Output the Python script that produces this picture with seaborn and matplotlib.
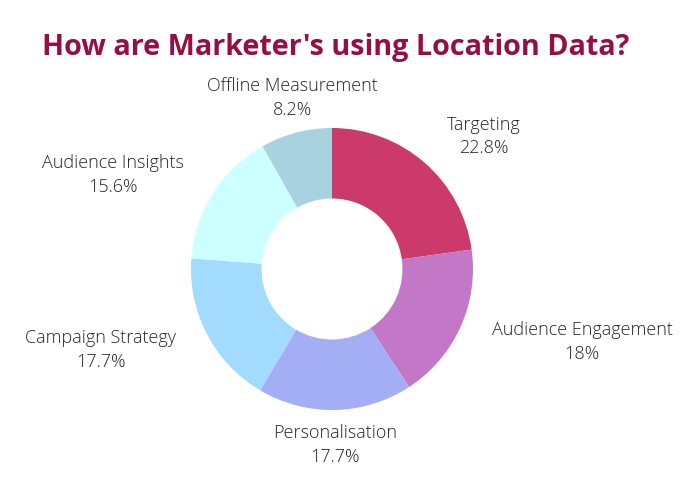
import matplotlib
matplotlib.use("Agg")
import matplotlib.pyplot as plt
import seaborn as sns
import numpy as np

# data
labels = ["Targeting", "Audience Engagement", "Personalisation",
          "Campaign Strategy", "Audience Insights", "Offline Measurement"]
shares = [22.8, 18.0, 17.7, 17.7, 15.6, 8.2]
share_text = ["22.8%", "18%", "17.7%", "17.7%", "15.6%", "8.2%"]
colors = ["#CC3A6C", "#C377C7", "#A4AEF5", "#A3DBFE", "#CCFFFF", "#A8D2DF"]

sns.set_theme(style="white")
plt.rcParams['font.family'] = ['Open Sans', 'DejaVu Sans']

fig = plt.figure(figsize=(6.98, 4.86), dpi=100)
ax = fig.add_axes([0, 0, 1, 1])

# pixel-like coordinate system for the canvas
W, H = 698, 486
cx, cy, R = 332, H - 269, 141

label_text = [f"{l}\n{s}" for l, s in zip(labels, share_text)]
wedges, texts = ax.pie(shares, labels=label_text, colors=colors,
                       startangle=90, counterclock=False,
                       center=(cx, cy), radius=R, labeldistance=1.1,
                       wedgeprops=dict(width=R * 0.5, linewidth=0),
                       textprops=dict(fontsize=13, color="#262626",
                                      fontweight="light", linespacing=1.4,
                                      multialignment="center"))

# align labels so that their inner edge sits next to the ring
for w, t in zip(wedges, texts):
    ang = np.deg2rad((w.theta1 + w.theta2) / 2)
    c, s = np.cos(ang), np.sin(ang)
    if abs(c) < 0.3:
        t.set_ha("center")
        t.set_va("bottom" if s > 0 else "top")
    else:
        d = 1.245 * R
        t.set_position((cx + d * c, cy + d * s))
        t.set_ha("left" if c > 0 else "right")
        t.set_va("center")

ax.set_xlim(0, W)
ax.set_ylim(0, H)
ax.set_aspect("equal")
ax.set_axis_off()

fig.text(336 / W, 1 - 47 / H, "How are Marketer's using Location Data?",
         ha="center", va="center", fontsize=20.7, fontweight="bold",
         color="#990D45")

fig.savefig("out.png", dpi=100)
